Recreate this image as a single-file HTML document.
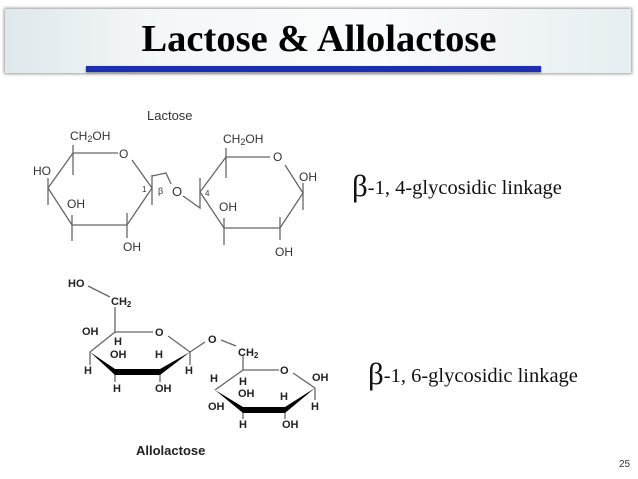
<!DOCTYPE html>
<html><head><style>
body{margin:0;width:638px;height:479px;background:#fff;overflow:hidden;position:relative;font-family:"Liberation Sans",sans-serif}
.hdr{position:absolute;left:5px;top:9px;width:626px;height:64px;background:linear-gradient(90deg,#dfe8ec 0%,#f4f7f8 25%,#fafbfc 60%,#e6eef1 100%);box-shadow:0 0 3px 1px #999;}
.bar{position:absolute;left:86px;top:66px;width:455px;height:6px;background:#1c2fb0;box-shadow:0 1px 2px #777}
h1{position:absolute;left:0;width:638px;top:17px;margin:0;text-align:center;font:bold 38.5px "Liberation Serif",serif;color:#000}
.lk{position:absolute;font:20.5px "Liberation Serif",serif;color:#111;white-space:nowrap}
.lk b{font-weight:normal;font-size:31px;vertical-align:-2px}
.pg{position:absolute;left:619px;top:459px;font-size:10px;color:#333}
svg text{font-family:"Liberation Sans",sans-serif}
</style></head><body>
<div class="hdr"></div>
<h1>Lactose &amp; Allolactose</h1>
<div class="bar"></div>
<div class="lk" style="left:352px;top:168px"><b>β</b>-1, 4-glycosidic linkage</div>
<div class="lk" style="left:368px;top:356px"><b>β</b>-1, 6-glycosidic linkage</div>
<div class="pg">25</div>
<svg width="638" height="479" style="position:absolute;left:0;top:0">
<g stroke="#666" stroke-width="1.3" fill="none">
<polyline points="118,153 73,153 48,188 72,225 127,225 152,188 132,160"/>
<line x1="73" y1="145" x2="73" y2="175"/><line x1="48" y1="178" x2="48" y2="205"/>
<line x1="72" y1="215" x2="72" y2="241"/><line x1="127" y1="213" x2="127" y2="238"/>
<line x1="152" y1="175" x2="152" y2="205"/>
<polyline points="152,176 166,173 171,184"/><polyline points="183,196 200,208 200,178"/>
<polyline points="270,157 226,157 200,192 224,228 280,228 303,193 285,165"/>
<line x1="226" y1="148" x2="226" y2="178"/><line x1="303" y1="183" x2="303" y2="210"/>
<line x1="224" y1="218" x2="224" y2="245"/><line x1="280" y1="217" x2="280" y2="240"/>
<line x1="88" y1="286" x2="110" y2="297"/><line x1="115" y1="307" x2="115" y2="333"/>
<polyline points="153,332 115,332 90,352"/><line x1="168" y1="336" x2="190" y2="352"/>
<line x1="190" y1="352" x2="205" y2="342"/><line x1="221" y1="340" x2="236" y2="346"/>
<line x1="243" y1="356" x2="243" y2="370"/>
<polyline points="279,370 243,370 215,390"/><line x1="293" y1="373" x2="315" y2="388"/>
<line x1="90" y1="352" x2="90" y2="365"/><line x1="190" y1="352" x2="190" y2="365"/>
<line x1="115" y1="372" x2="115" y2="382"/><line x1="160" y1="372" x2="160" y2="382"/>
<line x1="315" y1="388" x2="315" y2="400"/><line x1="243" y1="410" x2="243" y2="419"/><line x1="285" y1="410" x2="285" y2="419"/>
</g>
<g fill="#000">
<polygon points="90,352 115,369 115,375"/><rect x="115" y="369" width="45" height="6"/><polygon points="160,369 160,375 190,352"/>
<polygon points="215,390 243,407 243,413"/><rect x="243" y="407" width="42" height="6"/><polygon points="285,407 285,413 315,388"/>
</g>
<g font-size="12" fill="#333">
<text x="147" y="120" font-size="13">Lactose</text>
<text x="70" y="140">CH<tspan font-size="9" dy="2">2</tspan><tspan dy="-2">OH</tspan></text>
<text x="33" y="175">HO</text><text x="119" y="158">O</text>
<text x="67" y="208">OH</text><text x="123" y="251">OH</text>
<text x="142" y="192" font-size="8">1</text><text x="158" y="194" font-size="9">β</text>
<text x="172" y="196" font-size="13">O</text><text x="205" y="196" font-size="8">4</text>
<text x="223" y="143">CH<tspan font-size="9" dy="2">2</tspan><tspan dy="-2">OH</tspan></text>
<text x="273" y="161">O</text><text x="299" y="181">OH</text>
<text x="219" y="211">OH</text><text x="275" y="256">OH</text>
</g>
<g font-size="11" font-weight="bold" fill="#222">
<text x="68" y="287">HO</text><text x="111" y="305">CH<tspan font-size="8" dy="2">2</tspan></text>
<text x="82" y="335">OH</text><text x="155" y="336">O</text>
<text x="114" y="345">H</text><text x="110" y="358">OH</text><text x="155" y="358">H</text>
<text x="84" y="374">H</text><text x="185" y="374">H</text>
<text x="113" y="392">H</text><text x="155" y="392">OH</text>
<text x="208" y="343">O</text><text x="238" y="356">CH<tspan font-size="8" dy="2">2</tspan></text>
<text x="280" y="374">O</text><text x="312" y="381">OH</text>
<text x="210" y="382">H</text><text x="239" y="385">H</text><text x="238" y="397">OH</text>
<text x="280" y="400">H</text><text x="311" y="410">H</text>
<text x="208" y="410">OH</text><text x="239" y="428">H</text><text x="282" y="428">OH</text>
<text x="136" y="455" font-size="13">Allolactose</text>
</g>
</svg>
</body></html>
